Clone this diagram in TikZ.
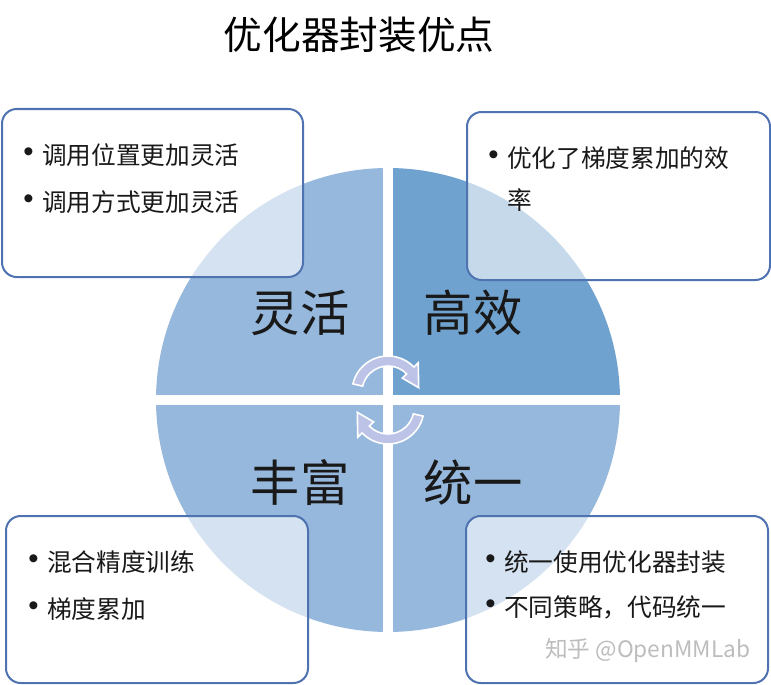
\documentclass[tikz,border=0pt]{standalone}
\usepackage{fontspec}
\setmainfont{Noto Sans CJK SC}
\newfontfamily\bulletfont{Liberation Sans}
\usetikzlibrary{positioning}

\definecolor{quadlight}{HTML}{95B8DC}
\definecolor{quaddark}{HTML}{6FA2CE}
\definecolor{boxline}{HTML}{4F72B0}
\definecolor{cyclefill}{HTML}{BCC3E6}
\definecolor{markgray}{HTML}{BDBDBD}

\tikzset{
  infobox/.style={draw=boxline, line width=1.5pt, rounded corners=11pt,
    fill=white, fill opacity=0.6, draw opacity=1},
  itemtext/.style={anchor=west, inner sep=0pt, text=black!90,
    font=\fontsize{18.5}{22}\selectfont},
  itembullet/.style={inner sep=0pt, text=black!90,
    font=\bulletfont\fontsize{22}{24}\selectfont},
  quadlabel/.style={inner sep=0pt, text=black!90,
    font=\fontsize{37}{40}\selectfont},
  gapline/.style={white, line width=7.5pt},
  cyclearrow/.style={fill=cyclefill, draw=white, line width=1.2pt}
}

\begin{document}
\begin{tikzpicture}[x=0.75pt, y=-0.75pt]
\useasboundingbox (0,0) rectangle (771,685);

\node[inner sep=0pt, font=\fontsize{29}{32}\selectfont] (title) at (359,35) {优化器封装优点};

\coordinate (ctr) at (388,400);
\fill[quadlight] (ctr) -- ++(180:232) arc[start angle=180, end angle=270, radius=232] -- cycle;
\fill[quaddark]  (ctr) -- ++(270:232) arc[start angle=270, end angle=360, radius=232] -- cycle;
\fill[quadlight] (ctr) -- ++(0:232) arc[start angle=0, end angle=90, radius=232] -- cycle;
\fill[quadlight] (ctr) -- ++(90:232) arc[start angle=90, end angle=180, radius=232] -- cycle;
\draw[gapline] (ctr) ++(-240,0) -- ++(480,0) (ctr) ++(0,-240) -- ++(0,480);

\begin{scope}[shift={(388,392)}]
  \filldraw[cyclearrow] (193:36) arc[start angle=193, end angle=316, radius=36]
    -- (316:42) -- (352:31) -- (316:20) -- (316:26)
    arc[start angle=316, end angle=193, radius=26] -- cycle;
\end{scope}
\begin{scope}[shift={(388,408)}]
  \filldraw[cyclearrow] (13:36) arc[start angle=13, end angle=136, radius=36]
    -- (136:42) -- (172:31) -- (136:20) -- (136:26)
    arc[start angle=136, end angle=13, radius=26] -- cycle;
\end{scope}

\node[quadlabel] (flex)  at (300,313) {灵活};
\node[quadlabel] (fast)  at (473,313) {高效};
\node[quadlabel] (rich)  at (300,483) {丰富};
\node[quadlabel] (unify) at (473,483) {统一};

\draw[infobox] (2,109) rectangle (303,277);
\draw[infobox] (467,112) rectangle (770,280);
\draw[infobox] (6,516) rectangle (308,683);
\draw[infobox] (466,516) rectangle (768,683);

\node[itemtext] (tl1) at (42,155) {调用位置更加灵活};
\node[itemtext] (tl2) at (42,202) {调用方式更加灵活};
\node[itembullet, left=6pt of tl1] (tl1b) {•};
\node[itembullet, left=6pt of tl2] (tl2b) {•};

\node[itemtext] (tr1) at (507,158) {优化了梯度累加的效};
\node[itemtext] (tr2) at (507,200) {率};
\node[itembullet, left=6pt of tr1] (tr1b) {•};

\node[itemtext] (bl1) at (47,562) {混合精度训练};
\node[itemtext] (bl2) at (47,609) {梯度累加};
\node[itembullet, left=6pt of bl1] (bl1b) {•};
\node[itembullet, left=6pt of bl2] (bl2b) {•};

\node[itemtext] (br1) at (504,562) {统一使用优化器封装};
\node[itemtext] (br2) at (504,607) {不同策略，代码统一};
\node[itembullet, left=6pt of br1] (br1b) {•};
\node[itembullet, left=6pt of br2] (br2b) {•};

\node[anchor=west, inner sep=0pt, text=markgray, font=\fontsize{17}{19}\selectfont] (mark) at (545,651) {知乎 @OpenMMLab};
\end{tikzpicture}
\end{document}
